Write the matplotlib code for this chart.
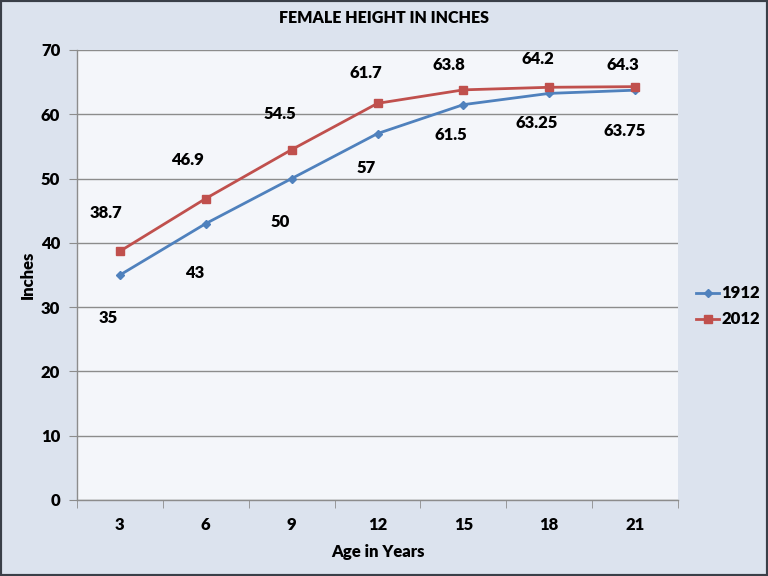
import numpy as np
import matplotlib.pyplot as plt
from matplotlib.patches import Rectangle

# Data
ages = ['3', '6', '9', '12', '15', '18', '21']
h1912 = [35, 43, 50, 57, 61.5, 63.25, 63.75]
h2012 = [38.7, 46.9, 54.5, 61.7, 63.8, 64.2, 64.3]
lab1912 = ['35', '43', '50', '57', '61.5', '63.25', '63.75']
lab2012 = ['38.7', '46.9', '54.5', '61.7', '63.8', '64.2', '64.3']

# label offsets in pixels (hand placed in the original)
off1912 = [(-12, -43), (-11, -49), (-11, -43), (-11, -34), (-12, -30), (-13, -30), (-10, -41)]
off2012 = [(-14, 38), (-18, 39), (-12, 36), (-12, 30), (-14, 25), (-11, 28), (-12, 22)]

W = 800  # Lato ExtraBold, closest to the heavy Calibri bold of the original
plt.rcParams['font.family'] = ['Lato', 'DejaVu Sans']
plt.rcParams['font.weight'] = W

blue = '#4F81BD'
red = '#C0504D'
grid_c = '#8C8C8C'

fig = plt.figure(figsize=(7.68, 5.76), dpi=100, facecolor='#DCE3EE')
ax = fig.add_axes([77 / 768, 76 / 576, 601 / 768, 450 / 576])
ax.set_facecolor('#F4F6FA')

x = np.arange(len(ages))
ax.plot(x, h1912, color=blue, lw=2, marker='D', ms=4.5, label='1912', zorder=3)
ax.plot(x, h2012, color=red, lw=2, marker='s', ms=6, label='2012', zorder=3)

for xi, v, t, (dx, dy) in zip(x, h1912, lab1912, off1912):
    ax.annotate(t, (xi, v), xytext=(dx, dy), textcoords='offset pixels',
                ha='center', va='center', fontsize=12, fontweight=W, color='black')
for xi, v, t, (dx, dy) in zip(x, h2012, lab2012, off2012):
    ax.annotate(t, (xi, v), xytext=(dx, dy), textcoords='offset pixels',
                ha='center', va='center', fontsize=12, fontweight=W, color='black')

ax.set_xlim(-0.5, len(ages) - 0.5)
ax.set_ylim(0, 70)
ax.set_yticks(range(0, 71, 10))
ax.set_xticks(x)
ax.set_xticklabels(ages)
ax.set_xticks(np.arange(-0.5, len(ages)), minor=True)
ax.tick_params(axis='x', which='major', length=0, pad=12, labelsize=12, labelcolor='black')
ax.tick_params(axis='x', which='minor', length=6, color=grid_c, direction='out')
ax.tick_params(axis='y', length=6, color=grid_c, pad=6, labelsize=12, labelcolor='black')
for lab in ax.get_xticklabels() + ax.get_yticklabels():
    lab.set_fontweight(W)

ax.yaxis.grid(True, color=grid_c, lw=1)
ax.set_axisbelow(True)
for s in ['top', 'right']:
    ax.spines[s].set_visible(False)
for s in ['left', 'bottom']:
    ax.spines[s].set_color(grid_c)
    ax.spines[s].set_linewidth(1)

ax.set_xlabel('Age in Years', fontsize=12, fontweight=W, labelpad=8)
ax.set_ylabel('Inches', fontsize=12, fontweight=W, labelpad=4)
fig.text(0.5, 0.968, 'FEMALE HEIGHT IN INCHES', ha='center', va='center',
         fontsize=11.5, fontweight=W)

leg = ax.legend(loc='center left', bbox_to_anchor=(1.005, 0.43), frameon=False,
                prop={'size': 12, 'weight': W}, handlelength=1.4,
                handletextpad=0.1, labelspacing=0.6)

fig.patches.append(Rectangle((0, 0), 1, 1, transform=fig.transFigure, fill=False,
                             edgecolor='#3A3F48', lw=3))

fig.savefig('out.png', dpi=100, facecolor=fig.get_facecolor())
